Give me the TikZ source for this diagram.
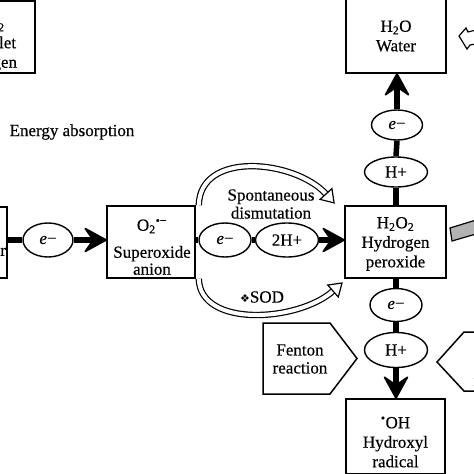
\documentclass[tikz,border=0pt]{standalone}
\usepackage{fontspec}
\setmainfont{Liberation Serif}[FakeBold=0.4]
\newfontfamily\symfont{DejaVu Sans}
\usetikzlibrary{arrows.meta,shapes.geometric}
\newcommand\myheadat[2]{\begin{scope}[shift={(#1)}, rotate=#2]
  \filldraw[bighead] (0,0) -- (-21,-11.5) -- (-13,0) -- (-21,11.5) -- cycle;
\end{scope}}
\begin{document}
\begin{tikzpicture}[x=1pt,y=-1pt,
  every node/.style={font=\fontsize{17}{19.5}\selectfont, inner sep=0pt, align=center},
  box/.style={draw, line width=1.6pt, rectangle},
  ell/.style={draw, ellipse, line width=1.4pt},
  link/.style={line width=5.5pt},
  shaft/.style={line width=5.5pt, shorten >=12pt},
  bighead/.style={line width=1.6pt, line join=round},
  ribbon/.style={line width=1.2pt, double=white, double distance=4pt},
  head/.style={draw, line width=1.2pt, fill=white, line join=miter},
  pent/.style={draw, line width=1.5pt, line join=miter}
]
\useasboundingbox (0,0) rectangle (474,474);
\clip (0,0) rectangle (474,474);

% boxes
\node[box, minimum width=86pt, minimum height=72pt] (singlet) at (-8,37) {};
\node (singlettxt) at (-8,43) {\textsuperscript{1}O\textsubscript{2}\\Singlet\\oxygen};
\node[box, minimum width=100pt, minimum height=74pt] (h2o) at (396,36) {};
\node (h2otxt) at (396,36) {H\textsubscript{2}O\\Water};
\node[box, minimum width=77pt, minimum height=71pt] (o2) at (-31.5,242.5) {};
\node[font=\fontsize{17}{17}\selectfont] (o2txt) at (-29,247) {O\textsubscript{2}\\[10pt]Molecular\\oxygen};
\node[box, minimum width=88pt, minimum height=72pt] (sup) at (151,242) {};
\node[font=\fontsize{17}{17}\selectfont] (suptxt) at (152,247) {O\textsubscript{2}\textsuperscript{•−}\\[10pt]Superoxide\\anion};
\node[box, minimum width=101pt, minimum height=72pt] (h2o2) at (395.5,242) {};
\node (h2o2txt) at (395.5,244) {H\textsubscript{2}O\textsubscript{2}\\Hydrogen\\peroxide};
\node[box, minimum width=99pt, minimum height=75pt] (oh) at (395.5,436.5) {};
\node (ohtxt) at (395.5,442) {\textsuperscript{•}OH\\Hydroxyl\\radical};

% ellipses
\node[ell, minimum width=50pt, minimum height=34pt] (e1) at (48,240) {\textit{e}−};
\node[ell, minimum width=52pt, minimum height=34pt] (e2) at (225,240) {\textit{e}−};
\node[ell, minimum width=63pt, minimum height=34pt] (h2p) at (287,240) {2H+};
\node[ell, minimum width=63pt, minimum height=30pt] (hpu) at (396,172) {H+};
\node[ell, minimum width=51pt, minimum height=30pt] (emu) at (397,125) {\textit{e}−};
\node[ell, minimum width=52pt, minimum height=33pt] (emd) at (396,305) {\textit{e}−};
\node[ell, minimum width=63pt, minimum height=35pt] (hpd) at (396,350) {H+};

% texts
\node (energy) at (72,132) {Energy absorption};
\node[font=\fontsize{17}{18}\selectfont] (spont) at (271,204) {Spontaneous\\dismutation};
\node (sod) at (262,297) {{\symfont\fontsize{11}{11}\selectfont ❖}SOD};

% arrow tip points
\coordinate (t1) at (sup.west |- e1.east);
\coordinate (t2) at (h2o2.west |- h2p.east);
\coordinate (t3) at (h2o.south -| emu.north);
\coordinate (t4) at (oh.north -| hpd.south);

% connectors
\draw[link] (e1.west) -- (e1.west -| o2.east);
\draw[shaft] (e1.east) -- (t1);
\myheadat{t1}{0}
\draw[link] (sup.east |- e2.west) -- (e2.west);
\draw[link] (e2.east) -- (h2p.west);
\draw[shaft] (h2p.east) -- (t2);
\myheadat{t2}{0}
\draw[link] (hpu.south |- h2o2.north) -- (hpu.south);
\draw[link] (hpu.north) -- (emu.south);
\draw[shaft] (emu.north) -- (t3);
\myheadat{t3}{90}
\draw[link] (emd.north |- h2o2.south) -- (emd.north);
\draw[link] (emd.south) -- (hpd.north);
\draw[shaft] (hpd.south) -- (t4);
\myheadat{t4}{-90}

% ribbons
\coordinate (ue) at (326,194);
\coordinate (le) at (333,291);
\draw[ribbon] ([xshift=3pt]sup.north east) .. controls (200,150) and (295,160) .. (ue);
\draw[head] (334.1,202.9) -- (320.1,199.4) -- (331.9,188.6) -- cycle;
\draw[ribbon] ([xshift=3pt]sup.south east) .. controls (200,328) and (298,322) .. (le);
\draw[head] (342,283) -- (338.3,297) -- (327.7,285) -- cycle;

% pentagons
\draw[pent] (263,323) -- (330,323) -- (357,358.5) -- (330,394) -- (263,394) -- cycle;
\node[font=\fontsize{17}{18}\selectfont] (fenton) at (300,359) {Fenton\\reaction};
\draw[pent] (437,362) -- (464,332) -- (540,332) -- (540,391) -- (464,391) -- cycle;
\node[font=\fontsize{17}{18}\selectfont] (haber) at (501,362) {Haber–\\Weiss\\reaction};

% partial arrows at right edge
\draw[fill=gray!60, line width=1.2pt, line join=miter] (450,228) -- (476,220) -- (476,234) -- (452,241) -- cycle;
\draw[fill=white, line width=1.2pt, line join=miter] (459,36) -- (466,28) -- (468,32) -- (476,30) -- (476,44) -- (470,45) -- (467,49) -- cycle;
\end{tikzpicture}
\end{document}
